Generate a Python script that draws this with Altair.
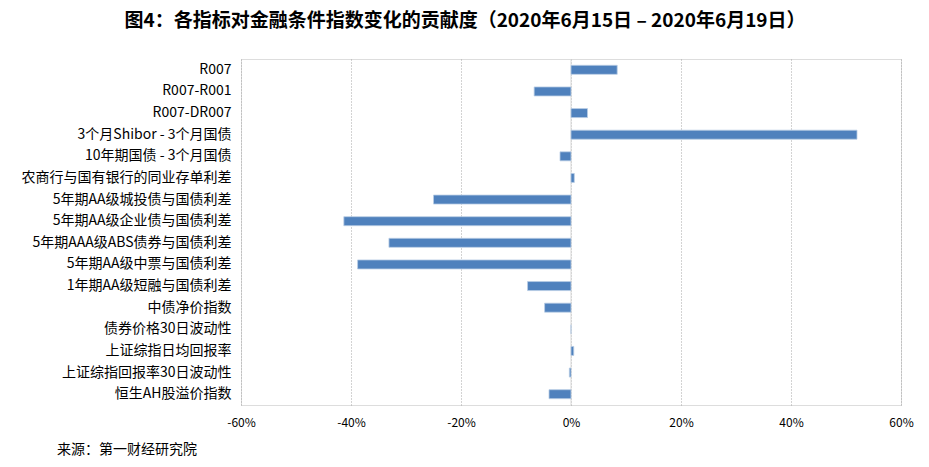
import altair as alt
import pandas as pd

# Contribution of each indicator to the change in the financial conditions index (%)
indicators = [
    "R007",
    "R007-R001",
    "R007-DR007",
    "3个月Shibor - 3个月国债",
    "10年期国债 - 3个月国债",
    "农商行与国有银行的同业存单利差",
    "5年期AA级城投债与国债利差",
    "5年期AA级企业债与国债利差",
    "5年期AAA级ABS债券与国债利差",
    "5年期AA级中票与国债利差",
    "1年期AA级短融与国债利差",
    "中债净价指数",
    "债券价格30日波动性",
    "上证综指日均回报率",
    "上证综指回报率30日波动性",
    "恒生AH股溢价指数",
]
contribution = [8.4, -6.7, 3.0, 52.0, -2.0, 0.6, -25.0, -41.3, -33.1, -38.8,
                -7.9, -4.8, 0.0, 0.5, -0.3, -4.0]
x_ticks = [-60, -40, -20, 0, 20, 40, 60]

title_text = "图4：各指标对金融条件指数变化的贡献度（2020年6月15日  –  2020年6月19日）"
source_text = "来源：第一财经研究院"

df = pd.DataFrame({"indicator": indicators, "value": contribution})

FONT = "Noto Sans CJK SC"
W, H = 660, 346

bars = alt.Chart(df).mark_bar(
    color="#4F81BD", stroke="#B9CDE5", strokeWidth=0.8, height=9
).encode(
    x=alt.X(
        "value:Q",
        scale=alt.Scale(domain=[-60, 60], nice=False),
        axis=alt.Axis(
            values=x_ticks,
            labelExpr="datum.value + '%'",
            title=None,
            grid=True,
            gridColor="#A6A6A6",
            gridDash=[1, 2],
            domain=False,
            ticks=False,
            labelFlush=False,
            labelFont=FONT,
            labelFontSize=12,
            labelColor="#000000",
            labelPadding=12,
        ),
    ),
    y=alt.Y(
        "indicator:N",
        sort=indicators,
        scale=alt.Scale(paddingInner=0.0, paddingOuter=0.0),
        axis=alt.Axis(
            title=None,
            domain=False,
            ticks=False,
            grid=False,
            labelFont=FONT,
            labelFontSize=14,
            labelLimit=0,
            labelColor="#000000",
            labelPadding=10,
        ),
    ),
)

zero_line = alt.Chart(pd.DataFrame({"z": [0]})).mark_rule(
    color="#D9D9D9", strokeWidth=1
).encode(x="z:Q")

title = alt.Chart(pd.DataFrame({"t": [title_text]})).mark_text(
    font=FONT, fontSize=19, fontWeight="bold", color="#000000",
    align="center", baseline="middle"
).encode(text="t:N", x=alt.value(224), y=alt.value(-38))

source = alt.Chart(pd.DataFrame({"t": [source_text]})).mark_text(
    font=FONT, fontSize=14, color="#000000", align="left", baseline="middle"
).encode(text="t:N", x=alt.value(-184), y=alt.value(391))

chart = alt.layer(zero_line, bars, title, source).properties(
    width=W,
    height=H,
    autosize=alt.AutoSizeParams(type="none"),
    padding={"left": 241, "top": 59, "right": 28, "bottom": 62},
).configure_view(stroke=None).configure(background="#FFFFFF")

chart.save("out.html", embed_options={"renderer": "svg", "actions": False})
